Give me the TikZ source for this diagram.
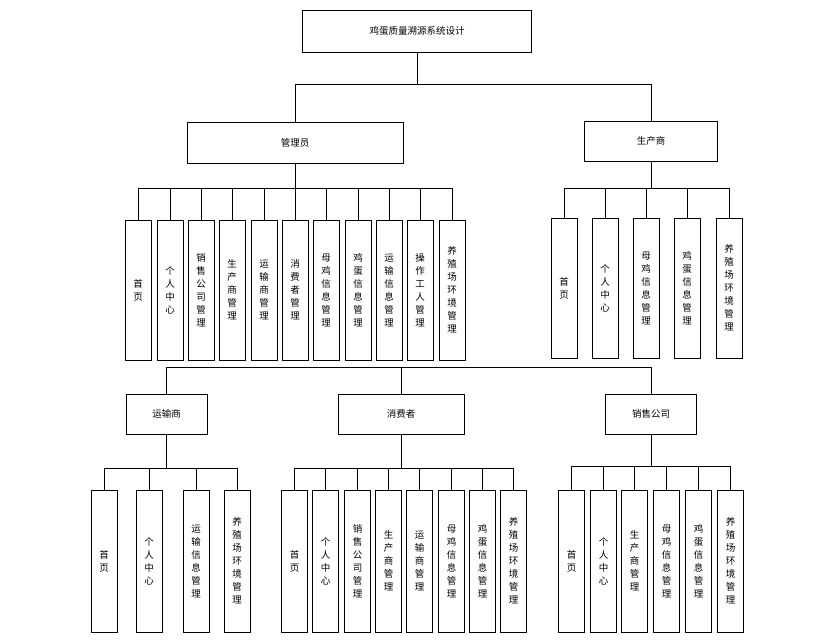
\documentclass[tikz,border=0pt]{standalone}
\usepackage{fontspec}
\setmainfont{Noto Sans CJK SC}
\begin{document}
\begin{tikzpicture}[x=1pt,y=-1pt,
  hbox/.style={draw,thin,fill=white,inner sep=0pt,font=\fontsize{9.5}{11}\selectfont},
  vbox/.style={draw,thin,fill=white,minimum width=26pt,minimum height=140pt,inner sep=0pt,font=\fontsize{9.5}{13}\selectfont,align=center},
  ln/.style={thin}]
\useasboundingbox (0,0) rectangle (814,642);
% level boxes
\node[hbox,minimum width=229pt,minimum height=42pt] (root) at (417,31) {鸡蛋质量溯源系统设计};
\node[hbox,minimum width=216pt,minimum height=41pt] (adm) at (295,142.5) {管理员};
\node[hbox,minimum width=133pt,minimum height=40pt] (pro) at (651,141) {生产商};
\draw[ln] (root.south) -- (417,84) coordinate (r1);
\coordinate (r2) at (295,84); \coordinate (r3) at (651,84);
\draw[ln] (r2) -- (r3); \draw[ln] (r2) -- (adm.north); \draw[ln] (r3) -- (pro.north);
% admin children
\foreach \x/\t [count=\i] in {138/首\\页,170/个\\人\\中\\心,201/销\\售\\公\\司\\管\\理,232/生\\产\\商\\管\\理,264/运\\输\\商\\管\\理,295/消\\费\\者\\管\\理,326/母\\鸡\\信\\息\\管\\理,358/鸡\\蛋\\信\\息\\管\\理,389/运\\输\\信\\息\\管\\理,420/操\\作\\工\\人\\管\\理,452/养\\殖\\场\\环\\境\\管\\理}{
  \node[vbox] (a\i) at (\x,290) {\t};
  \draw[ln] (a\i.north) -- (\x,188);
}
\draw[ln] (138,188) -- (452,188); \draw[ln] (adm.south) -- (295,188);
% producer children
\foreach \x/\t [count=\i] in {564/首\\页,605/个\\人\\中\\心,646/母\\鸡\\信\\息\\管\\理,687/鸡\\蛋\\信\\息\\管\\理,729/养\\殖\\场\\环\\境\\管\\理}{
  \node[vbox] (p\i) at (\x,288) {\t};
  \draw[ln] (p\i.north) -- (\x,188);
}
\draw[ln] (564,188) -- (729,188); \draw[ln] (pro.south) -- (651,188);
% middle level
\node[hbox,minimum width=81pt,minimum height=40pt] (tr) at (166.5,414) {运输商};
\node[hbox,minimum width=126pt,minimum height=40pt] (co) at (401,414) {消费者};
\node[hbox,minimum width=91pt,minimum height=40pt] (sa) at (651,414) {销售公司};
\coordinate (m1) at (166.5,367); \coordinate (m2) at (401,367); \coordinate (m3) at (651,367);
\draw[ln] (m1) -- (m3); \draw[ln] (m1) -- (tr.north); \draw[ln] (m2) -- (co.north); \draw[ln] (m3) -- (sa.north);
% transport children
\foreach \x/\t [count=\i] in {104/首\\页,149/个\\人\\中\\心,196/运\\输\\信\\息\\管\\理,237/养\\殖\\场\\环\\境\\管\\理}{
  \node[vbox,minimum height=142pt] (t\i) at (\x,561) {\t};
  \draw[ln] (t\i.north) -- (\x,468);
}
\draw[ln] (104,468) -- (237,468); \draw[ln] (tr.south) -- (166.5,468);
% consumer children
\foreach \x/\t [count=\i] in {294.5/首\\页,325.5/个\\人\\中\\心,357.5/销\\售\\公\\司\\管\\理,388.5/生\\产\\商\\管\\理,419.5/运\\输\\商\\管\\理,451.5/母\\鸡\\信\\息\\管\\理,482.5/鸡\\蛋\\信\\息\\管\\理,513.5/养\\殖\\场\\环\\境\\管\\理}{
  \node[vbox,minimum height=142pt] (c\i) at (\x,561) {\t};
  \draw[ln] (c\i.north) -- (\x,468);
}
\draw[ln] (294.5,468) -- (513.5,468); \draw[ln] (co.south) -- (401,468);
% sales children
\foreach \x/\t [count=\i] in {571.5/首\\页,603.5/个\\人\\中\\心,634.5/生\\产\\商\\管\\理,666.5/母\\鸡\\信\\息\\管\\理,698.5/鸡\\蛋\\信\\息\\管\\理,730.5/养\\殖\\场\\环\\境\\管\\理}{
  \node[vbox,minimum height=142pt] (s\i) at (\x,561) {\t};
  \draw[ln] (s\i.north) -- (\x,466);
}
\draw[ln] (571.5,466) -- (730.5,466); \draw[ln] (sa.south) -- (651,466);
\end{tikzpicture}
\end{document}
